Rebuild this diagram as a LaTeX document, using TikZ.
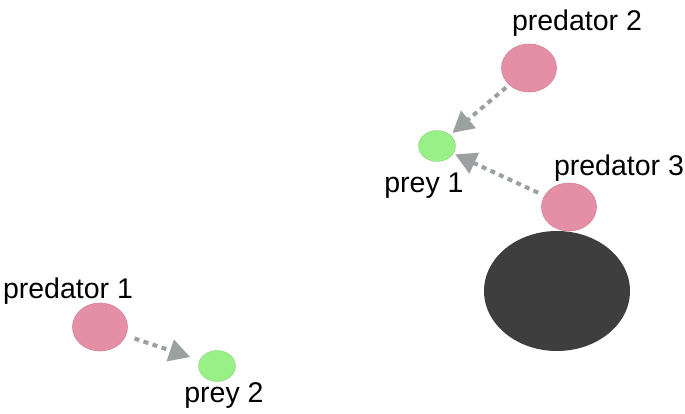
\documentclass[tikz,border=0pt]{standalone}
\usepackage{fontspec}
\setmainfont{Liberation Sans}
\usetikzlibrary{arrows.meta,shapes.geometric}
\definecolor{pinkfill}{RGB}{228,143,166}
\definecolor{pinkdraw}{RGB}{214,128,150}
\definecolor{greenfill}{RGB}{152,240,134}
\definecolor{darkblob}{RGB}{62,62,62}
\definecolor{arrowgray}{RGB}{155,160,160}
\tikzset{
  pred/.style={ellipse,draw=pinkdraw,fill=pinkfill,line width=0.6pt,minimum width=55pt,minimum height=48pt,inner sep=0pt},
  preyc/.style={ellipse,fill=greenfill,draw=greenfill!85!black,line width=0.3pt,minimum width=37pt,minimum height=31pt,inner sep=0pt},
  lbl/.style={anchor=base,font=\fontsize{28.5}{30}\selectfont,text=black,inner sep=0pt},
  chase/.style={draw=arrowgray,line width=4pt,dash pattern=on 5pt off 4.5pt,-{Triangle[length=21pt,width=22pt]}}
}
\begin{document}
\begin{tikzpicture}[x=1pt,y=-1pt]
\useasboundingbox (0,0) rectangle (685,414);
\fill[white] (0,0) rectangle (685,414);
% dark obstacle
\node[ellipse,fill=darkblob,minimum width=146pt,minimum height=120pt,inner sep=0pt] (obst) at (557,291) {};
% circles
\node[pred] (p2) at (529,68) {};
\node[pred] (p3) at (569,207) {};
\node[pred] (p1) at (100,327) {};
\node[preyc] (y1) at (437,146) {};
\node[preyc] (y2) at (217,366) {};
% labels
\node[lbl] (l2) at (577,31) {predator 2};
\node[lbl] (l3) at (619,176) {predator 3};
\node[lbl] (l1) at (68,298) {predator 1};
\node[lbl] (ly1) at (424,193) {prey 1};
\node[lbl] (ly2) at (224,402) {prey 2};
% arrows
\draw[chase,shorten <=4pt,shorten >=3pt] (p2) -- (y1);
\draw[chase,shorten <=7pt,shorten >=2pt] (p3) -- (y1);
\draw[chase,shorten <=9pt,shorten >=10pt] (p1) -- (y2);
\end{tikzpicture}
\end{document}
